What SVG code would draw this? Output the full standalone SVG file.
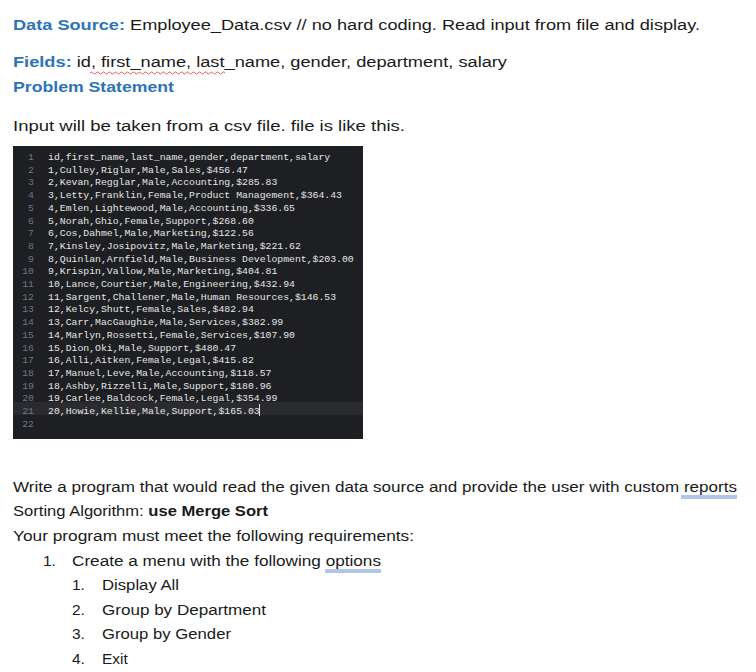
<svg xmlns="http://www.w3.org/2000/svg" width="756" height="672" viewBox="0 0 756 672">
<style>
.t{font-family:"Liberation Sans",Arial,sans-serif;font-size:15.5px;fill:#1a1a1a}
.h{fill:#2e74b5;font-weight:bold}
.c{font-family:"Liberation Mono","DejaVu Sans Mono",monospace;font-size:9.8px;fill:#e6e6e6}
.n{font-family:"Liberation Mono",monospace;font-size:9.8px;fill:#6e7681;text-anchor:end}
.u{stroke:#3a6fc4;stroke-width:0.8;fill:none}
</style>
<rect width="756" height="672" fill="#fff"/>
<text class="t" x="13" y="30" textLength="687" lengthAdjust="spacingAndGlyphs"><tspan class="h">Data Source:</tspan> Employee_Data.csv // no hard coding. Read input from file and display.</text>
<text class="t" x="13" y="67" textLength="494" lengthAdjust="spacingAndGlyphs"><tspan class="h">Fields:</tspan> id, first_name, last_name, gender, department, salary</text>
<path d="M90 73 q1.5 -2 3 0 t3 0 t3 0 t3 0 t3 0 t3 0 t3 0 t3 0 t3 0 t3 0 t3 0 t3 0 t3 0 t3 0 t3 0 t3 0 t3 0 t3 0 t3 0 t3 0 t3 0 t3 0 t3 0 t3 0 t3 0 t3 0 t3 0 t3 0 t3 0 t3 0 t3 0 t3 0 t3 0 t3 0 t3 0 t3 0 t3 0 t3 0 t3 0 t3 0 t3 0 t3 0 t3 0 t3 0 t3 0" stroke="#d33" stroke-width="0.8" fill="none"/>
<text class="t h" x="13" y="92" textLength="161" lengthAdjust="spacingAndGlyphs">Problem Statement</text>
<text class="t" x="13" y="131" textLength="392" lengthAdjust="spacingAndGlyphs">Input will be taken from a csv file. file is like this.</text>
<g id="code">
<rect x="13" y="146" width="350" height="293" fill="#1e1f22"/>
<rect x="13" y="402" width="350" height="13" fill="#2a2b2f"/>
<g class="n">
<text x="34" y="160">1</text><text x="34" y="172.7">2</text><text x="34" y="185.4">3</text><text x="34" y="198.1">4</text><text x="34" y="210.8">5</text><text x="34" y="223.5">6</text><text x="34" y="236.2">7</text><text x="34" y="248.9">8</text><text x="34" y="261.6">9</text><text x="34" y="274.3">10</text><text x="34" y="287">11</text><text x="34" y="299.7">12</text><text x="34" y="312.4">13</text><text x="34" y="325.1">14</text><text x="34" y="337.8">15</text><text x="34" y="350.5">16</text><text x="34" y="363.2">17</text><text x="34" y="375.9">18</text><text x="34" y="388.6">19</text><text x="34" y="401.3">20</text><text x="34" y="414">21</text><text x="34" y="426.7">22</text>
</g>
<g class="c">
<text x="48" y="160">id,first_name,last_name,gender,department,salary</text>
<text x="48" y="172.7">1,Culley,Riglar,Male,Sales,$456.47</text>
<text x="48" y="185.4">2,Kevan,Regglar,Male,Accounting,$285.83</text>
<text x="48" y="198.1">3,Letty,Franklin,Female,Product Management,$364.43</text>
<text x="48" y="210.8">4,Emlen,Lightewood,Male,Accounting,$336.65</text>
<text x="48" y="223.5">5,Norah,Ghio,Female,Support,$268.60</text>
<text x="48" y="236.2">6,Cos,Dahmel,Male,Marketing,$122.56</text>
<text x="48" y="248.9">7,Kinsley,Josipovitz,Male,Marketing,$221.62</text>
<text x="48" y="261.6">8,Quinlan,Arnfield,Male,Business Development,$203.00</text>
<text x="48" y="274.3">9,Krispin,Vallow,Male,Marketing,$404.81</text>
<text x="48" y="287">10,Lance,Courtier,Male,Engineering,$432.94</text>
<text x="48" y="299.7">11,Sargent,Challener,Male,Human Resources,$146.53</text>
<text x="48" y="312.4">12,Kelcy,Shutt,Female,Sales,$482.94</text>
<text x="48" y="325.1">13,Carr,MacGaughie,Male,Services,$382.99</text>
<text x="48" y="337.8">14,Marlyn,Rossetti,Female,Services,$107.90</text>
<text x="48" y="350.5">15,Dion,Oki,Male,Support,$480.47</text>
<text x="48" y="363.2">16,Alli,Aitken,Female,Legal,$415.82</text>
<text x="48" y="375.9">17,Manuel,Leve,Male,Accounting,$118.57</text>
<text x="48" y="388.6">18,Ashby,Rizzelli,Male,Support,$180.96</text>
<text x="48" y="401.3">19,Carlee,Baldcock,Female,Legal,$354.99</text>
<text x="48" y="414">20,Howie,Kellie,Male,Support,$165.03</text>
</g>
<line x1="259.5" y1="404" x2="259.5" y2="416" stroke="#ddd" stroke-width="1"/>
</g>
<text class="t" x="13" y="492" textLength="724" lengthAdjust="spacingAndGlyphs">Write a program that would read the given data source and provide the user with custom reports</text>
<path class="u" d="M681 496 H737 M681 498 H737"/>
<text class="t" x="13" y="516" textLength="255" lengthAdjust="spacingAndGlyphs">Sorting Algorithm: <tspan font-weight="bold">use Merge Sort</tspan></text>
<text class="t" x="13" y="541" textLength="401" lengthAdjust="spacingAndGlyphs">Your program must meet the following requirements:</text>
<text class="t" x="43" y="566">1.</text>
<text class="t" x="72" y="566" textLength="309" lengthAdjust="spacingAndGlyphs">Create a menu with the following options</text>
<path class="u" d="M325 570 H381 M325 572 H381"/>
<text class="t" x="72" y="590">1.</text><text class="t" x="102" y="590" textLength="77" lengthAdjust="spacingAndGlyphs">Display All</text>
<text class="t" x="72" y="615">2.</text><text class="t" x="102" y="615" textLength="164" lengthAdjust="spacingAndGlyphs">Group by Department</text>
<text class="t" x="72" y="639">3.</text><text class="t" x="102" y="639" textLength="129" lengthAdjust="spacingAndGlyphs">Group by Gender</text>
<text class="t" x="72" y="664">4.</text><text class="t" x="102" y="664">Exit</text>
</svg>
